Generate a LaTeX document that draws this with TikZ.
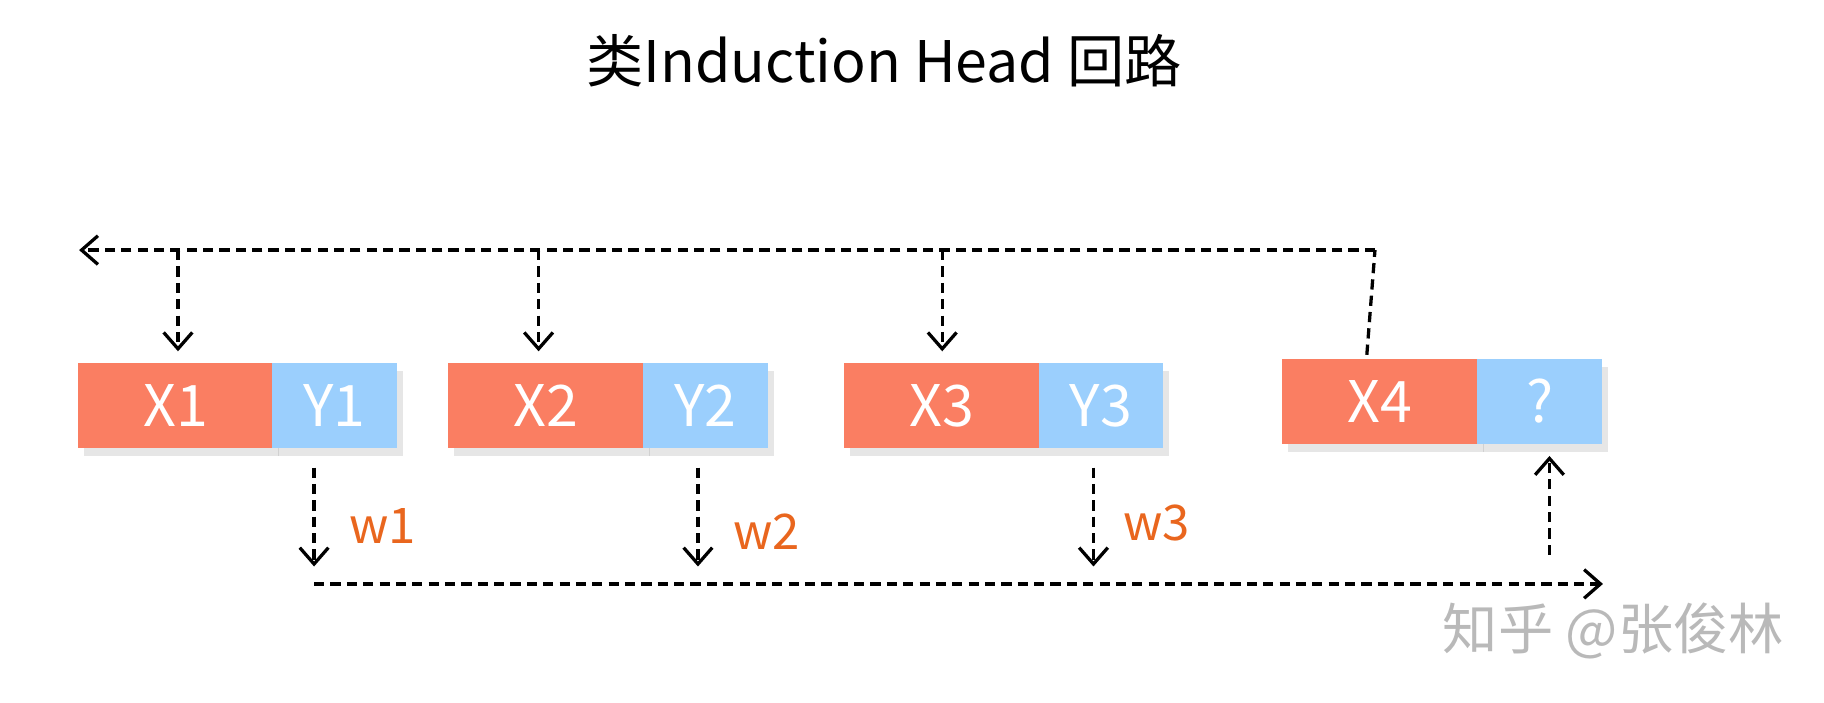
\documentclass[tikz,border=0pt]{standalone}
\usepackage{fontspec}
\setmainfont{Noto Sans CJK SC}
\usetikzlibrary{arrows.meta,shadows}
\definecolor{xred}{HTML}{FA7E62}
\definecolor{yblue}{HTML}{9BCFFD}
\definecolor{worange}{HTML}{E9661E}
\begin{document}
\begin{tikzpicture}[x=0.01cm,y=-0.01cm,
  xbox/.style={fill=xred,minimum width=1.68cm,minimum height=0.73cm,inner sep=0,text=white,font=\fontsize{14}{14}\selectfont,drop shadow={shadow xshift=0.05cm,shadow yshift=-0.07cm,opacity=0.2}},
  ybox/.style={fill=yblue,minimum width=1.07cm,minimum height=0.73cm,inner sep=0,text=white,font=\fontsize{14}{14}\selectfont,drop shadow={shadow xshift=0.05cm,shadow yshift=-0.07cm,opacity=0.2}},
  dl/.style={line width=0.8pt,dash pattern=on 2.5pt off 1.5pt},
  da/.style={dl,-{Straight Barb[length=4pt,width=7pt,line width=0.8pt]}},
  wl/.style={text=worange,font=\fontsize{12}{12}\selectfont,anchor=west}]
\useasboundingbox (0,0) rectangle (1568,604);
\node (title) at (760,52) {\fontsize{14}{14}\selectfont 类Induction Head 回路};
\node[xbox] (x1) at (151,348.5) {X1};
\node[ybox] (y1) at (287.5,348.5) {Y1};
\node[xbox] (x2) at (469.5,348.5) {X2};
\node[ybox] (y2) at (606.5,348.5) {Y2};
\node[xbox] (x3) at (809.5,348.5) {X3};
\node[ybox] (y3) at (946.5,348.5) {Y3};
\node[xbox] (x4) at (1186.5,345) {X4};
\node[ybox] (q) at (1323.5,345) {?};
\coordinate (tr) at (1182,215);
\coordinate (tl) at (68,215);
\coordinate (t1) at (153,215);
\coordinate (t2) at (463,215);
\coordinate (t3) at (810,215);
\draw[dl] (1175,305) -- (tr);
\draw[da] (tr) -- (tl);
\draw[da] (t1) -- (153,302);
\draw[da] (t2) -- (463,302);
\draw[da] (t3) -- (810,302);
\draw[da] (270,402) -- (270,487);
\draw[da] (600,402) -- (600,487);
\draw[da] (940,402) -- (940,487);
\coordinate (bl) at (270,502);
\coordinate (br) at (1378,502);
\draw[da] (bl) -- (br);
\draw[da] (1332,477) -- (1332,392);
\node[wl] (w1) at (288,452) {w1};
\node[wl] (w2) at (618,457) {w2};
\node[wl] (w3) at (953,450) {w3};
\node[text=gray!55,anchor=west,font=\fontsize{13.5}{13.5}\selectfont] (wm) at (1228,542) {知乎 @张俊林};
\end{tikzpicture}
\end{document}
